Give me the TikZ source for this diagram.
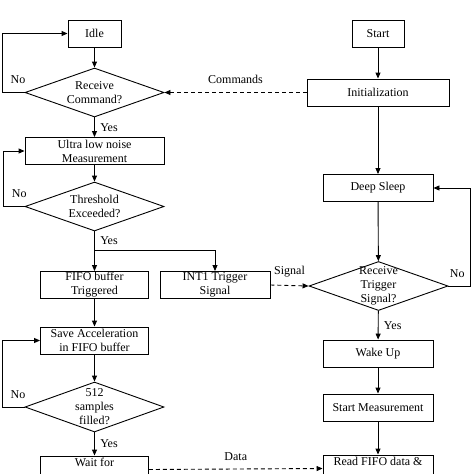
\documentclass[tikz,border=0pt]{standalone}
\usepackage{fontspec}
\setmainfont{Liberation Serif}
\usetikzlibrary{shapes.geometric,arrows.meta}

\begin{document}
\begin{tikzpicture}[x=1pt,y=-1pt,
    >={Triangle[length=6pt,width=5pt]},
    line width=0.9pt,
    every node/.style={font=\fontsize{12}{14}\selectfont},
    box/.style={draw, rectangle, align=center, inner sep=0pt, minimum height=27pt},
    decision/.style={draw, diamond, inner sep=0pt, minimum width=139pt, minimum height=49pt},
    inside/.style={align=center},
    link/.style={dash pattern=on 4pt off 3pt}]
    \clip (0,0) rectangle (474,474);

    % left column
    \node[box, minimum width=53pt] (idle) at (94.5,33.5) {Idle};
    \node[decision, label={[inside]center:Receive\\Command?}] (cmd) at (94.5,92.5) {};
    \node[box, minimum width=139pt] (ultra) at (94.5,151) {Ultra low noise\\Measurement};
    \node[decision, label={[inside]center:Threshold\\Exceeded?}] (thr) at (94.5,206.5) {};
    \coordinate (split) at (94.5,250);
    \node[box, minimum width=108pt] (fifo) at (94.5,285) {FIFO buffer\\Triggered};
    \node[box, minimum width=110pt] (int1) at (215,285) {INT1 Trigger\\Signal};
    \node[box, minimum width=108pt] (save) at (94.5,340.5) {Save Acceleration\\in FIFO buffer};
    \node[decision, minimum height=50pt, label={[inside]center:512\\samples\\filled?}] (fill) at (94.5,407) {};
    \node[box, minimum width=108pt] (wait) at (94.5,469.5) {Wait for\\\mbox{}};

    % right column
    \node[box, minimum width=52pt] (start) at (378,33.5) {Start};
    \node[box, minimum width=142pt] (init) at (378,92.5) {Initialization};
    \node[box, minimum width=110pt] (sleep) at (378,188) {Deep Sleep};
    \node[decision, label={[inside]center:Receive\\Trigger\\Signal?}] (trig) at (378.5,286) {};
    \node[box, minimum width=110pt] (wake) at (378,353.5) {Wake Up};
    \node[box, minimum width=110pt] (meas) at (378,407.5) {Start Measurement};
    \node[box, minimum width=110pt] (read) at (378,468.5) {Read FIFO data \&\\\mbox{}};

    \draw[->] (idle) -- (cmd);
    \draw[->] (cmd) -- node[right=2pt]{Yes} (ultra);
    \draw[->] (cmd.west) -- ++(-22,0) node[pos=0.3, above=5pt]{No} |- (idle.west);
    \draw[->] (ultra) -- (thr);
    \draw[->] (thr.west) -- ++(-21,0) node[pos=0.25, above=5pt]{No} |- (ultra.west);
    \draw (thr.south) -- node[right=2pt]{Yes} (split);
    \draw[->] (split) -- (fifo);
    \draw[->] (split) -| (int1);
    \draw[->] (fifo) -- (save);
    \draw[->] (save) -- (fill);
    \draw[->] (fill.west) -- ++(-22,0) node[pos=0.3, above=5pt]{No} |- (save.west);
    \draw[->] (fill) -- node[right=2pt]{Yes} (wait);

    \draw[->] (start) -- (init);
    \draw[->] (init) -- (sleep);
    \draw[->] (sleep) -- (trig);
    \draw[->] (trig.east) -- ++(22,0) node[pos=0.4, above=5pt]{No} |- (sleep.east);
    \draw[->] (trig) -- node[right=2pt]{Yes} (wake);
    \draw[->] (wake) -- (meas);
    \draw[->] (meas) -- (read);

    % messages between the two sides
    \draw[->, link] (init.west) -- node[above=5pt]{Commands} (cmd.east);
    \draw[->, link] (int1.east) -- node[above=5pt]{Signal} (trig.west);
    \draw[->, link] (wait.east) -- node[above=5pt]{Data} (read.west);

\end{tikzpicture}
\end{document}
